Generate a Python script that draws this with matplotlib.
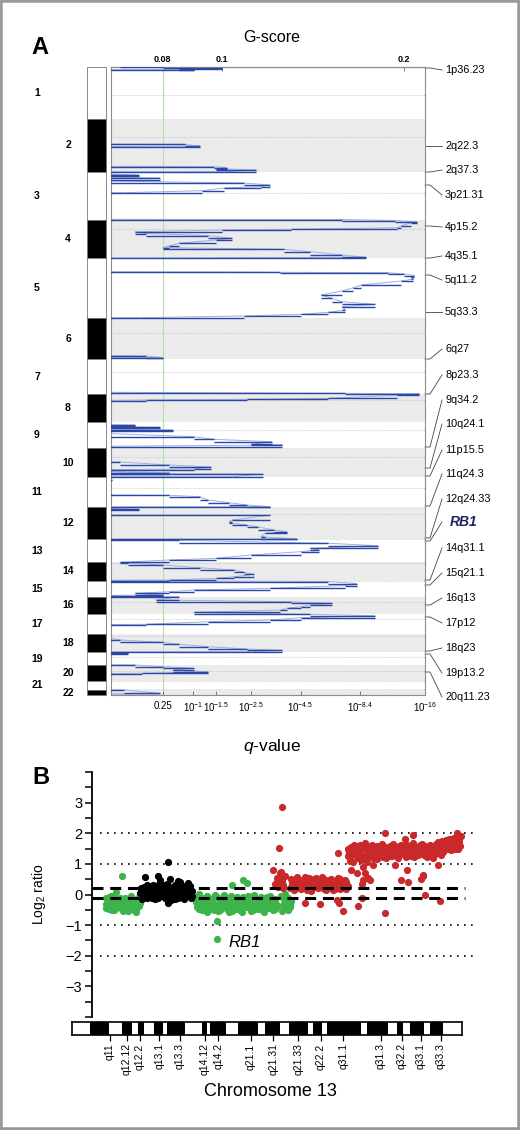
import numpy as np
import matplotlib
matplotlib.use('Agg')
import matplotlib.pyplot as plt
import matplotlib.transforms as mtransforms
from matplotlib.patches import Rectangle
from matplotlib.ticker import NullLocator, MultipleLocator

plt.rcParams['font.family'] = ['Liberation Sans', 'DejaVu Sans']
plt.rcParams['mathtext.fontset'] = 'custom'
plt.rcParams['mathtext.rm'] = 'Liberation Sans'
plt.rcParams['mathtext.it'] = 'Liberation Sans:italic'

W, H = 520, 1130

# ---------------- panel A data ----------------
# chromosome extents along the genome axis (marker index units, top to bottom)
chrom_len = [52, 53, 48, 38, 60, 41, 35, 28, 26, 29, 30, 32, 23, 19, 16, 17, 20, 18, 13, 16, 9, 5]
centromeres = [28, 70, 126, 162, 266, 305, 333, 363, 390, 421, 447, 472, 496, 514, 535, 552,
               569, 590, 604, 614, 622]

g_min, g_max = 0.0657, 0.2166
q_threshold_g = 0.08
gscore_ticks = [0.08, 0.1, 0.2]
gscore_labels = ['0.08', '0.1', '0.2']
q_tick_g = [0.080, 0.0897, 0.0978, 0.112, 0.135, 0.169, 0.2166]
q_labels = ['0.25', r'$10^{-1}$', r'$10^{-1.5}$', r'$10^{-2.5}$', r'$10^{-4.5}$',
            r'$10^{-8.4}$', r'$10^{-16}$']

# G-score trace (deletions); 0.05 = below the axis floor
trace_pos = ([0, 0.3, 1.0, 1.5, 2.0, 2.5, 3.0] +
             [77, 77.3, 78.5, 79.0, 80, 99, 99.7, 100.5, 101.5, 103, 104.7, 105] +
             [108, 109, 111, 113, 116, 118, 119.5, 121, 123.7, 125.7, 126] +
             [152.3, 152.5, 153.5, 155, 156, 158.7, 160.7, 162.3, 163, 164.7, 166.5, 168.5,
              171.3, 173, 176.3, 178.7, 180.7, 182.3, 184.7, 188, 190.3, 191.3] +
             [204.7, 205.0, 205.3, 205.7, 207, 208.5, 210, 212, 214, 218, 220.7, 224, 228,
              231.3, 234.7, 237.3, 239.7, 243, 245.3, 247.3, 249, 250.7, 251] +
             [288, 289, 290.5, 291] +
             [325, 326.3, 326.8, 327.5, 328.3, 331.3, 332.3, 333, 334] +
             [357, 358, 359, 360.3, 361, 363, 364, 369.7, 372.3, 374.7, 377.3, 378, 379.7] +
             [394.7, 395, 398, 400, 402, 403, 405.7, 406.5, 407, 409.7, 410, 413] +
             [428, 428.3, 429.7, 433, 435.7, 438, 439.7, 440] +
             [442.3, 443, 448, 448.3, 453, 454.7, 456.3, 458, 460, 463, 464.7, 466.3, 469.7,
              472, 472.3] +
             [473.3, 476.3, 478.7, 481.3, 483, 484.7, 488, 491.3, 493, 495.3] +
             [496.3, 498, 500.7, 503, 505.3, 507.3, 509.7, 511.3, 513, 513.5] +
             [514.5, 516.5, 518.5, 521.3, 523, 524.7, 526.3, 528, 529] +
             [529.7, 533, 534.7, 536.3, 538, 539.7, 541.3, 543, 545.3, 547.3, 548.7] +
             [550.7, 553, 554.7, 557.3, 558] +
             [573, 575.3, 577.3, 579.7, 582, 583.3, 584.7, 585, 586.3, 587] +
             [597.5, 598, 599.7, 601.3, 603, 604.7, 606.3, 607] +
             [622.5, 623, 626.3, 627.5])
trace_g = ([0.068, 0.080, 0.100, 0.099, 0.085, 0.090, 0.05] +
           [0.05, 0.087, 0.090, 0.092, 0.05, 0.05, 0.097, 0.102, 0.098, 0.114, 0.101, 0.05] +
           [0.073, 0.05, 0.079, 0.05, 0.109, 0.120, 0.116, 0.101, 0.093, 0.069, 0.05] +
           [0.05, 0.158, 0.193, 0.210, 0.205, 0.198, 0.195, 0.130, 0.100, 0.072, 0.075, 0.095,
            0.104, 0.098, 0.085, 0.082, 0.080, 0.127, 0.140, 0.158, 0.173, 0.05] +
           [0.05, 0.103, 0.125, 0.188, 0.200, 0.208, 0.205, 0.207, 0.198, 0.170, 0.165, 0.158, 0.146,
            0.152, 0.158, 0.179, 0.158, 0.160, 0.150, 0.135, 0.109, 0.073, 0.05] +
           [0.05, 0.075, 0.080, 0.05] +
           [0.05, 0.160, 0.212, 0.200, 0.195, 0.150, 0.110, 0.075, 0.05] +
           [0.05, 0.072, 0.05, 0.079, 0.05, 0.083, 0.05, 0.090, 0.097, 0.121, 0.112, 0.126, 0.05] +
           [0.05, 0.068, 0.082, 0.096, 0.090, 0.05, 0.082, 0.05, 0.117, 0.104, 0.05, 0.066] +
           [0.05, 0.082, 0.092, 0.095, 0.103, 0.110, 0.120, 0.05] +
           [0.073, 0.05, 0.05, 0.120, 0.104, 0.103, 0.104, 0.110, 0.115, 0.122, 0.128, 0.118, 0.116,
            0.133, 0.05] +
           [0.085, 0.150, 0.181, 0.140, 0.145, 0.135, 0.112, 0.098, 0.082, 0.068] +
           [0.070, 0.080, 0.092, 0.105, 0.109, 0.113, 0.105, 0.098, 0.082, 0.05] +
           [0.150, 0.167, 0.160, 0.120, 0.090, 0.082, 0.072, 0.080, 0.05] +
           [0.085, 0.078, 0.130, 0.152, 0.140, 0.135, 0.128, 0.125, 0.090, 0.140, 0.179] +
           [0.135, 0.120, 0.095, 0.075, 0.05] +
           [0.068, 0.080, 0.085, 0.095, 0.110, 0.126, 0.112, 0.05, 0.070, 0.05] +
           [0.05, 0.072, 0.080, 0.090, 0.083, 0.095, 0.074, 0.05] +
           [0.05, 0.069, 0.079, 0.05])

peak_names = ['1p36.23', '2q22.3', '2q37.3', '3p21.31', '4p15.2', '4q35.1', '5q11.2', '5q33.3',
              '6q27', '8p23.3', '9q34.2', '10q24.1', '11p15.5', '11q24.3', '12q24.33', 'RB1',
              '14q31.1', '15q21.1', '16q13', '17p12', '18q23', '19p13.2', '20q11.23']
peak_text_pos = [3, 79, 103, 128, 160, 189, 213, 245, 282, 308, 333, 357, 383, 407, 432, 455,
                 481, 506, 531, 556, 581, 606, 630]
peak_anchor_pos = [1, 79, 105, 118, 159, 191, 208, 245, 292, 327, 380, 401, 409, 439, 471, 474,
                   513, 518, 538, 550, 584, 587, 605]

# ---------------- panel B data (chromosome 13, Mb) ----------------
green_x = ([9.8, 10.2, 10.6, 11.0, 11.4, 11.8, 12.2, 12.6, 13.0, 13.4, 13.8, 14.2, 14.6, 15.0, 15.4,
            15.8, 16.2, 16.6, 17.0, 17.4, 17.8, 18.2, 18.6, 19.0, 19.4, 19.8] +
           [10.0, 10.8, 11.6, 12.4, 13.2, 14.0, 14.8, 15.6, 16.4, 17.2, 18.0, 18.8, 19.6] +
           [9.9, 10.7, 11.5, 12.3, 13.1, 13.9, 14.7, 15.5, 16.3, 17.1, 17.9, 18.7, 19.5] +
           [14.5, 12.9] +
           [36.0, 36.8, 37.6, 38.4, 39.2, 40.0, 40.8, 41.6, 42.4, 43.2, 44.0, 44.8, 45.6, 46.4, 47.2,
            48.0, 48.8, 49.6, 50.4, 51.2, 52.0, 52.8, 53.6, 54.4, 55.2, 56.0, 56.8, 57.6, 58.4, 59.2,
            60.0] +
           [36.4, 37.2, 38.0, 38.8, 39.6, 40.4, 41.2, 42.0, 42.8, 43.6, 44.4, 45.2, 46.0, 46.8, 47.6,
            48.4, 49.2, 50.0, 50.8, 51.6, 52.4, 53.2, 54.0, 54.8, 55.6, 56.4, 57.2, 58.0, 58.8, 59.6] +
           [36.2, 37.0, 37.8, 38.6, 39.4, 40.2, 41.0, 41.8, 42.6, 43.4, 44.2, 45.0, 45.8, 46.6, 47.4,
            48.2, 49.0, 49.8, 50.6, 51.4, 52.2, 53.0, 53.8, 54.6, 55.4, 56.2, 57.0, 57.8, 58.6, 59.4] +
           [50.1, 51.1, 46.7, 42.3, 42.3] +
           [61.2, 61.6, 62.0, 62.4, 62.8, 63.2, 63.6, 64.0, 61.4, 62.2, 63.0, 63.8])
green_y = ([-0.12, -0.30, -0.22, -0.41, -0.18, -0.35, -0.27, -0.48, -0.15, -0.33, -0.24, -0.44, -0.20,
            -0.38, -0.29, -0.50, -0.17, -0.36, -0.25, -0.42, -0.14, -0.31, -0.46, -0.22, -0.37, -0.28] +
           [-0.45, -0.08, -0.52, -0.26, -0.40, -0.10, -0.55, -0.30, -0.43, -0.06, -0.49, -0.21, -0.39] +
           [-0.32, -0.47, -0.05, -0.50, -0.20, -0.30, -0.36, -0.12, -0.53, -0.34, -0.26, -0.58, -0.08] +
           [0.59, 0.07] +
           [-0.10, -0.32, -0.20, -0.45, -0.15, -0.38, -0.25, -0.50, -0.08, -0.30, -0.42, -0.18, -0.35,
            -0.05, -0.28, -0.47, -0.14, -0.33, -0.22, -0.40, -0.12, -0.36, -0.26, -0.48, -0.09, -0.31,
            -0.19, -0.44, -0.27, -0.16, -0.39] +
           [-0.40, 0.02, -0.52, -0.28, -0.06, -0.48, -0.13, -0.34, -0.55, -0.21, -0.03, -0.46, -0.24,
            -0.53, -0.11, -0.29, -0.50, -0.07, -0.37, -0.17, -0.54, -0.02, -0.43, -0.23, -0.49, -0.10,
            -0.41, -0.04, -0.51, -0.30] +
           [-0.26, -0.48, -0.35, -0.12, -0.58, -0.22, -0.44, -0.03, -0.32, -0.50, -0.15, -0.30, -0.56,
            -0.20, -0.42, -0.09, -0.34, -0.57, -0.26, -0.06, -0.38, -0.52, -0.14, -0.32, -0.40, -0.56,
            -0.07, -0.28, -0.20, -0.47] +
           [0.48, 0.37, 0.32, -0.88, -1.44] +
           [-0.05, -0.35, -0.15, -0.45, -0.25, -0.10, -0.40, -0.20, -0.55, 0.02, -0.50, -0.30])

black_x = ([20.0, 20.6, 21.2, 21.8, 22.4, 23.0, 23.6, 24.2, 24.8, 25.4, 26.0, 26.6, 27.2, 27.8, 28.4,
            29.0, 29.6, 30.2, 30.8, 31.4, 32.0, 32.6, 33.2, 33.8, 34.4, 35.0] +
           [20.3, 20.9, 21.5, 22.1, 22.7, 23.3, 23.9, 24.5, 25.1, 25.7, 26.3, 26.9, 27.5, 28.1, 28.7,
            29.3, 29.9, 30.5, 31.1, 31.7, 32.3, 32.9, 33.5, 34.1, 34.7] +
           [20.6, 21.8, 23.0, 24.2, 25.4, 26.6, 27.8, 29.0, 30.2, 31.4, 32.6, 33.8, 35.0] +
           [20.1, 21.0, 22.0, 22.9, 23.8, 24.7, 25.6, 26.4, 27.3, 28.2, 29.1, 30.0, 30.9, 31.8, 32.7,
            33.6, 34.5] +
           [21.3, 25.2, 25.7, 28.6, 31.1, 31.6, 28.0, 28.1, 33.9])
black_y = ([0.05, 0.18, -0.02, 0.22, 0.10, 0.28, 0.02, 0.15, 0.25, -0.05, 0.12, 0.30, 0.08, 0.20,
            -0.08, 0.16, 0.26, 0.04, 0.21, 0.11, 0.29, -0.03, 0.17, 0.24, 0.07, 0.13] +
           [0.20, -0.06, 0.12, 0.02, 0.25, -0.10, 0.19, 0.06, -0.12, 0.23, 0.03, -0.04, 0.27, -0.09,
            0.14, 0.01, -0.07, 0.19, -0.11, 0.24, 0.09, 0.27, -0.01, 0.20, -0.12] +
           [-0.15, 0.32, 0.08, -0.16, 0.33, -0.02, 0.35, -0.18, 0.31, 0.05, -0.14, 0.34, -0.05] +
           [0.10, 0.26, -0.12, 0.17, 0.30, 0.00, 0.14, 0.22, -0.13, 0.28, 0.10, -0.14, 0.33, -0.08,
            0.12, 0.04, 0.28] +
           [0.58, 0.61, 0.48, 0.50, 0.44, 0.40, 1.05, -0.28, 0.38])

red_x = ([58.8, 59.3, 59.8, 60.3, 60.8, 61.3, 61.8, 62.2, 60.0, 61.0, 61.6, 59.5, 60.5, 61.3, 60.6] +
         [63.8, 64.6, 65.4, 66.2, 67.0, 67.8, 68.6, 69.4, 70.2, 71.0, 71.8, 72.6, 73.4, 74.2, 75.0,
          75.8, 76.6, 77.4, 78.2, 79.0, 79.8, 80.6] +
         [64.2, 65.0, 65.8, 66.6, 67.4, 68.2, 69.0, 69.8, 70.6, 71.4, 72.2, 73.0, 73.8, 74.6, 75.4,
          76.2, 77.0, 77.8, 78.6, 79.4, 80.2] +
         [64.0, 64.8, 65.6, 66.4, 67.2, 68.0, 68.8, 69.6, 70.4, 71.2, 72.0, 72.8, 73.6, 74.4, 75.2,
          76.0, 76.8, 77.6, 78.4, 79.2, 80.0] +
         [68.1, 72.5, 77.4, 78.1, 79.3, 83.5, 84.7, 91.5, 103.2, 107.6, 84.7, 87.1, 98.3, 102.7,
          101.9, 77.9, 81.7, 83.2, 85.6, 86.6, 85.2, 85.2, 88.1, 94.4, 97.8, 102.7, 107.1, 96.2,
          91.5, 97.4, 99.6, 112.4] +
         [80.6, 81.8, 83.0, 84.2, 85.4, 86.6, 87.8, 89.0, 90.2, 91.4, 92.6, 93.8, 95.0, 96.2, 97.4,
          98.6, 99.8, 101.0, 102.2, 103.4, 104.6, 105.8, 107.0, 108.2, 109.4, 110.6, 111.8, 113.0] +
         [81.2, 82.4, 83.6, 84.8, 86.0, 87.2, 88.4, 89.6, 90.8, 92.0, 93.2, 94.4, 95.6, 96.8, 98.0,
          99.2, 100.4, 101.6, 102.8, 104.0, 105.2, 106.4, 107.6, 108.8, 110.0, 111.2, 112.4, 113.6] +
         [80.9, 82.1, 83.3, 84.5, 85.7, 86.9, 88.1, 89.3, 90.5, 91.7, 92.9, 94.1, 95.3, 96.5, 97.7,
          98.9, 100.1, 101.3, 102.5, 103.7, 104.9, 106.1, 107.3, 108.5, 109.7, 110.9, 112.1, 113.3] +
         [80.7, 81.9, 83.1, 84.3, 85.5, 86.7, 87.9, 89.1, 90.3, 91.5, 92.7, 93.9, 95.1, 96.3, 97.5,
          98.7, 99.9, 101.1, 102.3, 103.5, 104.7, 105.9, 107.1, 108.3, 109.5, 110.7, 111.9, 113.1] +
         [81.5, 83.9, 86.3, 88.7, 91.1, 93.5, 95.9, 98.3, 100.7, 103.1, 105.5, 107.9, 110.3, 112.7])
red_y = ([0.80, 0.35, 0.55, 0.25, 0.70, 0.45, 0.30, 0.60, 0.40, 0.75, 0.20, 0.28, 0.50, 2.87, 1.51] +
         [0.22, 0.45, 0.30, 0.52, 0.18, 0.40, 0.28, 0.55, 0.20, 0.38, 0.48, 0.25, 0.42, 0.16, 0.35,
          0.50, 0.24, 0.44, 0.19, 0.33, 0.47, 0.27] +
         [0.38, 0.15, 0.58, 0.26, 0.46, 0.20, 0.36, 0.13, 0.50, 0.23, 0.32, 0.56, 0.18, 0.43, 0.27,
          0.14, 0.39, 0.53, 0.30, 0.21, 0.41] +
         [0.50, 0.28, 0.20, 0.42, 0.33, 0.56, 0.16, 0.44, 0.30, 0.53, 0.20, 0.36, 0.52, 0.29, 0.48,
          0.38, 0.18, 0.28, 0.50, 0.42, 0.17] +
         [-0.28, -0.31, -0.17, -0.28, -0.55, -0.37, -0.12, -0.60, 0.00, -0.20, 0.35, 0.48, 0.42,
          0.59, 0.50, 1.35, 0.80, 0.70, 0.70, 0.53, 0.46, 0.91, 0.97, 0.97, 0.80, 0.64, 0.97, 0.46,
          2.00, 1.80, 1.94, 2.00] +
         [1.25, 1.45, 1.60, 1.30, 1.52, 1.38, 1.62, 1.28, 1.48, 1.55, 1.35, 1.65, 1.42, 1.58, 1.32,
          1.50, 1.68, 1.40, 1.57, 1.36, 1.62, 1.48, 1.70, 1.55, 1.78, 1.62, 1.85, 1.72] +
         [1.10, 1.62, 1.20, 1.48, 1.18, 1.58, 1.25, 1.44, 1.22, 1.38, 1.52, 1.28, 1.60, 1.33, 1.46,
          1.26, 1.40, 1.63, 1.30, 1.50, 1.34, 1.66, 1.42, 1.60, 1.50, 1.76, 1.58, 1.90] +
         [1.40, 1.05, 1.35, 1.12, 1.68, 1.30, 1.45, 1.15, 1.64, 1.20, 1.58, 1.42, 1.18, 1.50, 1.66,
          1.38, 1.22, 1.52, 1.46, 1.24, 1.44, 1.32, 1.56, 1.38, 1.66, 1.46, 1.70, 1.60] +
         [1.50, 1.28, 1.45, 1.62, 1.25, 1.50, 1.18, 1.60, 1.35, 1.45, 1.25, 1.55, 1.30, 1.62, 1.24,
          1.58, 1.48, 1.30, 1.66, 1.45, 1.55, 1.40, 1.62, 1.75, 1.55, 1.80, 1.50, 1.82] +
         [1.55, 1.42, 1.05, 1.52, 1.35, 1.25, 1.52, 1.60, 1.55, 1.58, 1.20, 1.30, 1.82, 1.48])

gain_cut, loss_cut = 0.2, -0.1
ratio_ticks = [-3, -2, -1, 0, 1, 2, 3]
dotted_levels = [-2, -1, 1, 2]

chr13_len = 114.0
dark_start = [5.3, 14.6, 19.3, 24.0, 27.8, 38.0, 40.3, 48.5, 56.4, 63.4, 70.4, 74.5, 86.2, 95.0,
              98.8, 104.6]
dark_end = [10.8, 17.5, 21.0, 26.6, 33.0, 39.5, 45.0, 54.4, 60.8, 69.0, 73.1, 84.5, 92.4, 96.8,
            102.9, 108.4]
band_names = ['q11', 'q12.12', 'q12.2', 'q13.1', 'q13.3', 'q14.12', 'q14.2', 'q21.1', 'q21.31',
              'q21.33', 'q22.2', 'q31.1', 'q31.3', 'q32.2', 'q33.1', 'q33.3']
band_pos = [11.1, 16.0, 19.9, 25.5, 31.6, 38.9, 42.8, 52.2, 58.8, 66.1, 72.7, 79.3, 90.2, 96.4,
            101.9, 107.8]
rb1_pos, rb1_ratio = 45.6, -1.57


def box(x0, y0, x1, y1):
    # pixel box of the reference -> figure fraction rect
    return [x0 / W, 1 - y1 / H, (x1 - x0) / W, (y1 - y0) / H]


fig = plt.figure(figsize=(W / 100, H / 100), dpi=100)

# ================= panel A =================
chrom_start = np.concatenate([[0], np.cumsum(chrom_len)[:-1]])
genome_len = sum(chrom_len)

axA = fig.add_axes(box(111, 67, 425, 695))
axA.set_xscale('log')
axA.set_xlim(g_min, g_max)
axA.set_ylim(genome_len, 0)
for i, (s, l) in enumerate(zip(chrom_start, chrom_len)):
    if i % 2 == 1:
        axA.axhspan(s, s + l, color='#ebebeb', lw=0, zorder=0)
for c in centromeres:
    axA.axhline(c, color='#b2b2b2', lw=0.6, ls=(0, (1, 2)), zorder=1)
axA.axvline(q_threshold_g, color='#b7dcb2', lw=0.8, zorder=1)
# thin light connecting line + dark horizontal jump strokes
axA.plot(trace_g, trace_pos, color='#9fb0de', lw=0.7, zorder=2)
axA.hlines(trace_pos[1:], trace_g[:-1], trace_g[1:], color='#2b47a3', lw=1.0, zorder=3)

for sp in axA.spines.values():
    sp.set_color('#8c8c8c')
    sp.set_linewidth(0.8)
axA.set_yticks([])
axA.xaxis.set_minor_locator(NullLocator())
axA.set_xticks(q_tick_g)
axA.set_xticklabels(q_labels, fontsize=7)
axA.tick_params(axis='x', direction='in', length=3, width=0.6, color='#666', pad=4)

top = axA.secondary_xaxis('top')
top.xaxis.set_minor_locator(NullLocator())
top.set_xticks(gscore_ticks)
top.set_xticklabels(gscore_labels, fontsize=6.5, weight='bold')
top.tick_params(direction='in', length=3, width=0.6, color='#666', pad=2)
top.spines['top'].set_color('#555')

# chromosome column
axI = fig.add_axes(box(87, 67, 106, 695))
axI.set_xlim(0, 1)
axI.set_ylim(genome_len, 0)
axI.axis('off')
trI = mtransforms.blended_transform_factory(fig.transFigure, axI.transData)
for i, (s, l) in enumerate(zip(chrom_start, chrom_len)):
    axI.add_patch(Rectangle((0, s), 1, l, fc='black' if i % 2 else 'white',
                            ec='#777', lw=0.6, clip_on=False))
    axI.text(68 / W if i % 2 else 37 / W, s + l / 2, str(i + 1), transform=trI,
             ha='center', va='center', fontsize=7.5, weight='bold')

# peak labels with leader lines
trA = mtransforms.blended_transform_factory(fig.transFigure, axA.transData)
for name, ty, ay in zip(peak_names, peak_text_pos, peak_anchor_pos):
    axA.plot([425 / W, 430 / W, 442 / W], [ay, ay, ty], transform=trA, clip_on=False,
             color='#444', lw=0.6)
    if name == 'RB1':
        axA.text(450 / W, ty, name, transform=trA, va='center', fontsize=10,
                 style='italic', weight='bold', color='#1c2462')
    else:
        axA.text(445 / W, ty, name, transform=trA, va='center', fontsize=7.8)

fig.text(40 / W, 1 - 47 / H, 'A', fontsize=17, weight='bold', ha='center', va='center')
fig.text(272 / W, 1 - 37 / H, 'G-score', fontsize=11.5, ha='center', va='center')
fig.text(272 / W, 1 - 746 / H, r'$q$-value', fontsize=12.5, ha='center', va='center')

# ================= panel B =================
axB = fig.add_axes(box(92, 772, 475, 1017))
axB.set_xlim(5.85, 117.8)
axB.set_ylim(-4, 4)
for sp in ['top', 'right', 'bottom']:
    axB.spines[sp].set_visible(False)
axB.spines['left'].set_linewidth(1.3)
axB.set_xticks([])
axB.set_yticks(ratio_ticks)
axB.yaxis.set_minor_locator(MultipleLocator(0.5))
axB.tick_params(axis='y', which='both', direction='out', length=5, width=1.1, labelsize=10.5, pad=2)
axB.set_ylabel(r'Log$_2$ ratio', fontsize=10)
axB.yaxis.set_label_coords(-0.115, 0.5)

axB.hlines(dotted_levels, 8.2, 117.2, colors='black', lw=1.2, linestyles=(0, (1, 3.2)), zorder=1)
axB.scatter(green_x, green_y, s=27, color='#3cb44a', lw=0, zorder=2)
axB.scatter(black_x, black_y, s=27, color='black', lw=0, zorder=2)
axB.scatter(red_x, red_y, s=27, color='#c9292b', lw=0, zorder=2)
axB.hlines([gain_cut, loss_cut], 5.85, 114.9, colors='black', lw=2.2,
           linestyles=(0, (3.6, 2.2)), zorder=4)
axB.text(rb1_pos, rb1_ratio, 'RB1', fontsize=12, style='italic', va='center')

fig.text(41 / W, 1 - 777 / H, 'B', fontsize=17, weight='bold', ha='center', va='center')

# chromosome 13 ideogram
axC = fig.add_axes(box(72, 1021.7, 462, 1035))
axC.set_xlim(0, chr13_len)
axC.set_ylim(0, 1)
axC.add_patch(Rectangle((0, 0), chr13_len, 1, fc='white', ec='none'))
for s, e in zip(dark_start, dark_end):
    axC.add_patch(Rectangle((s, 0), e - s, 1, fc='black', ec='none'))
for sp in axC.spines.values():
    sp.set_linewidth(1.2)
axC.set_yticks([])
axC.set_xticks(band_pos)
axC.set_xticklabels(band_names, rotation=90, fontsize=7.5)
axC.tick_params(axis='x', direction='out', length=4, width=0.9, pad=2)

fig.text(270 / W, 1 - 1092 / H, 'Chromosome 13', fontsize=13, ha='center', va='center')

# outer frame of the figure
fig.add_artist(Rectangle((0, 0), 1, 1, transform=fig.transFigure, fill=False,
                         ec='#9a9a9a', lw=4))

fig.savefig('out.png', dpi=100)
